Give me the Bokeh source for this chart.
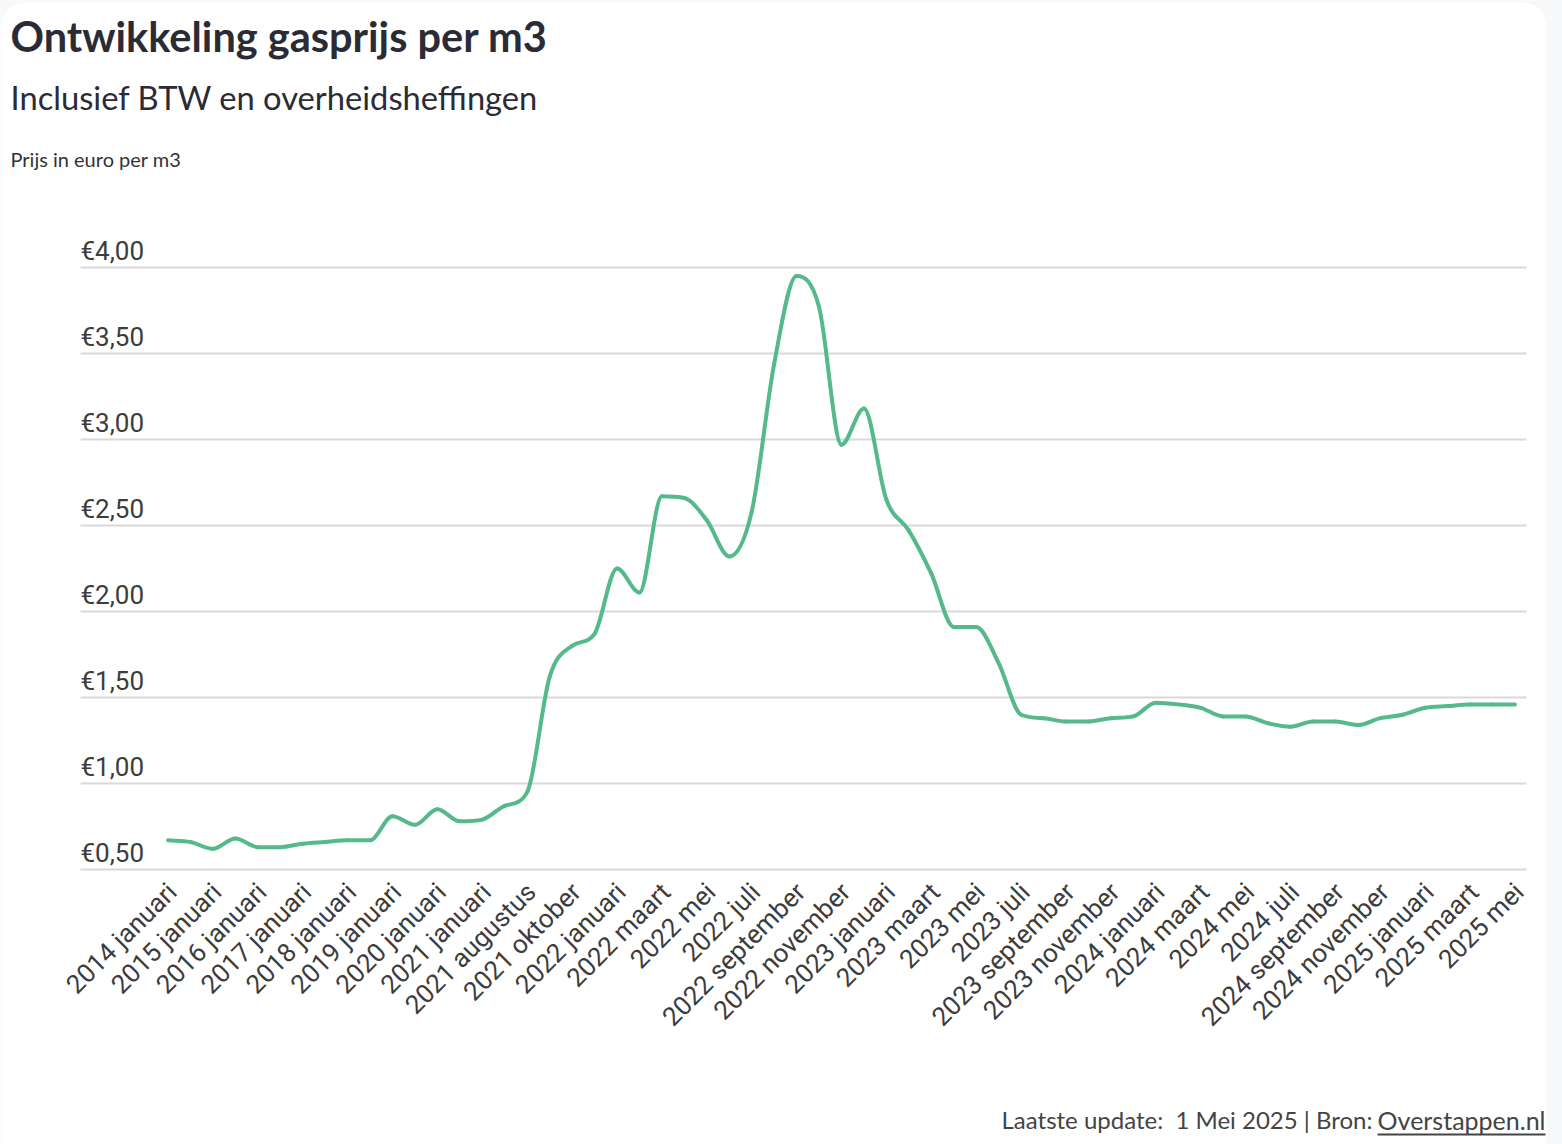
import math

from bokeh.core.properties import value
from bokeh.embed import file_html
from bokeh.models import BoxAnnotation, ColumnDataSource, Label, Range1d
from bokeh.plotting import figure
from bokeh.resources import INLINE

# Months on the category axis (only every second one gets a tick label)
months = [
    "2014 januari", "2014 juli", "2015 januari", "2015 juli", "2016 januari",
    "2016 juli", "2017 januari", "2017 juli", "2018 januari", "2018 juli",
    "2019 januari", "2019 juli", "2020 januari", "2020 juli", "2021 januari",
    "2021 juli", "2021 augustus", "2021 september", "2021 oktober", "2021 november",
    "2022 januari", "2022 februari", "2022 maart", "2022 april", "2022 mei",
    "2022 juni", "2022 juli", "2022 augustus", "2022 september", "2022 oktober",
    "2022 november", "2022 december", "2023 januari", "2023 februari", "2023 maart",
    "2023 april", "2023 mei", "2023 juni", "2023 juli", "2023 augustus",
    "2023 september", "2023 oktober", "2023 november", "2023 december", "2024 januari",
    "2024 februari", "2024 maart", "2024 april", "2024 mei", "2024 juni",
    "2024 juli", "2024 augustus", "2024 september", "2024 oktober", "2024 november",
    "2024 december", "2025 januari", "2025 februari", "2025 maart", "2025 april",
    "2025 mei",
]

# Gas price per m3 in euro, incl. BTW and levies
prices = [
    0.67, 0.66, 0.62, 0.68, 0.63, 0.63, 0.65, 0.66, 0.67, 0.67,
    0.81, 0.76, 0.85, 0.78, 0.79, 0.87, 0.95, 1.62, 1.80, 1.87,
    2.25, 2.11, 2.67, 2.66, 2.53, 2.32, 2.58, 3.44, 3.95, 3.77,
    2.97, 3.18, 2.65, 2.47, 2.22, 1.91, 1.91, 1.70, 1.40, 1.38,
    1.36, 1.36, 1.38, 1.39, 1.47, 1.46, 1.44, 1.39, 1.39, 1.35,
    1.33, 1.36, 1.36, 1.34, 1.38, 1.40, 1.44, 1.45, 1.46, 1.46,
    1.46,
]

tick_positions = list(range(0, len(months), 2))
tick_labels = [months[i] for i in tick_positions]

y_ticks = [0.5, 1.0, 1.5, 2.0, 2.5, 3.0, 3.5, 4.0]
y_tick_labels = ["€0,50", "€1,00", "€1,50", "€2,00", "€2,50", "€3,00", "€3,50", "€4,00"]

# Canvas geometry (pixels); the plot frame fills the whole canvas
W, H = 1562, 1144
GRID_L, GRID_R, BASE_Y = 80, 1526, 869
FIRST_PX, STEP_PX, PX_PER_EURO = 167.5, 22.45, 172.0


def px_x(px):
    return (px - FIRST_PX) / STEP_PX


def px_y(py):
    return 0.5 + (BASE_Y - py) / PX_PER_EURO


n = len(prices)


def monotone_tangents(ys):
    """Fritsch-Carlson tangents for a monotone cubic through equally spaced points."""
    m = len(ys)
    delta = [ys[i + 1] - ys[i] for i in range(m - 1)]
    tan = [0.0] * m
    for i in range(m):
        if i == 0:
            tan[i] = delta[0]
        elif i == m - 1:
            tan[i] = delta[-1]
        else:
            a, b = delta[i - 1], delta[i]
            if a == 0 or b == 0 or (a > 0) != (b > 0):
                tan[i] = 0.0
            else:
                tan[i] = (a + b) / 2
    for i in range(m - 1):
        d = delta[i]
        if abs(d) < 1e-12:
            tan[i] = tan[i + 1] = 0.0
            continue
        alpha, beta = tan[i] / d, tan[i + 1] / d
        mag = alpha * alpha + beta * beta
        if mag <= 9:
            continue
        tau = 3 / math.sqrt(mag)
        tan[i] = alpha * tau * d
        tan[i + 1] = beta * tau * d
    return tan


tangents = monotone_tangents(prices)
third = 1 / 3
curve = ColumnDataSource(dict(
    x0=list(range(n - 1)),
    y0=prices[:-1],
    x1=list(range(1, n)),
    y1=prices[1:],
    cx0=[i + third for i in range(n - 1)],
    cy0=[prices[i] + tangents[i] * third for i in range(n - 1)],
    cx1=[i + 1 - third for i in range(n - 1)],
    cy1=[prices[i + 1] - tangents[i + 1] * third for i in range(n - 1)],
))

p = figure(
    width=W, height=H,
    x_range=Range1d(px_x(0), px_x(W)), y_range=Range1d(px_y(H), px_y(0)),
    output_backend="svg", toolbar_location=None, title=None,
    x_axis_location=None, y_axis_location=None,
    min_border=0, min_border_left=0, min_border_right=0, min_border_top=0, min_border_bottom=0,
    background_fill_color="#f7f8fa", border_fill_color="#f7f8fa",
    outline_line_color=None,
)
p.xgrid.visible = False
p.ygrid.visible = False

# White card behind the chart
p.quad(left=px_x(1), right=px_x(1546), top=px_y(2), bottom=px_y(H + 40),
       fill_color="#ffffff", line_color=None, border_radius=24)

# Horizontal grid lines
p.segment(x0=[px_x(GRID_L)] * len(y_ticks), x1=[px_x(GRID_R)] * len(y_ticks),
          y0=y_ticks, y1=y_ticks, line_color="#d9d9d9", line_width=2)

# Price labels sitting on top of the grid lines
p.text(
    x=[px_x(GRID_L)] * len(y_ticks), y=y_ticks, text=y_tick_labels,
    text_font=value("Roboto"), text_font_size="26px", text_color="#3c3c3c",
    text_baseline="bottom", text_align="left", y_offset=-2,
)

# Slanted month labels under the base line
p.text(
    x=tick_positions, y=[0.5] * len(tick_positions), text=tick_labels,
    angle=math.pi / 4, text_font=value("Roboto"), text_font_size="26px",
    text_color="#3c3c3c", text_align="right", text_baseline="middle",
    x_offset=4, y_offset=18,
)

# Smoothed price line
p.bezier(
    x0="x0", y0="y0", x1="x1", y1="y1", cx0="cx0", cy0="cy0", cx1="cx1", cy1="cy1",
    source=curve, line_color="#55b98a", line_width=4, line_cap="round",
)


def add_text(text, cx, cy, size, color="#2b2b36", style="normal", font="Lato", align="left"):
    """Place text by canvas pixel position (cy is the baseline)."""
    lift = 0.4 * size
    p.add_layout(Label(
        x=cx, y=H - cy + lift, x_units="screen", y_units="screen",
        text=text, text_font=font, text_font_size=f"{size}px", text_color=color,
        text_font_style=style, text_align=align, text_baseline="alphabetic",
    ))


add_text("Ontwikkeling gasprijs per m3", 10, 52, 41.5, style="bold")
add_text("Inclusief BTW en overheidsheffingen", 10, 110, 32.7)
add_text("Prijs in euro per m3", 10, 166, 20, color="#333333")

# Footer with source link
add_text("Overstappen.nl", 1545, 1129, 25, color="#444444", align="right")
add_text("Laatste update:\u00a0 1 Mei 2025 | Bron:", 1372, 1129, 24, color="#444444", align="right")
p.add_layout(BoxAnnotation(
    left=1377, right=1545, bottom=H - 1135, top=H - 1133,
    left_units="screen", right_units="screen", bottom_units="screen", top_units="screen",
    fill_color="#444444", fill_alpha=1, line_color=None,
))

open("out.html", "w").write(file_html(p, INLINE))
